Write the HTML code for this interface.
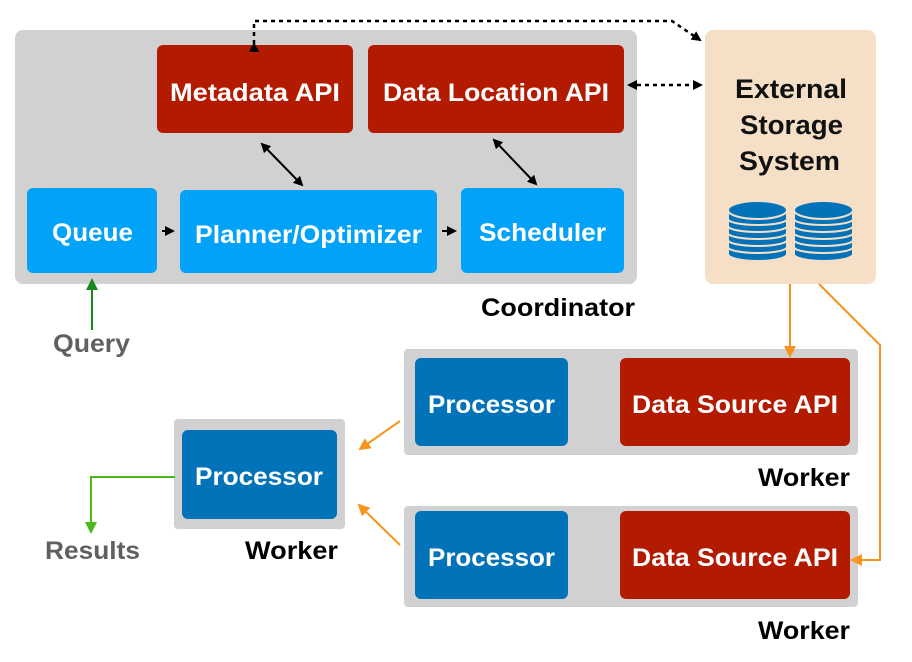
<!DOCTYPE html>
<html><head><meta charset="utf-8"><style>
html,body{margin:0;padding:0;background:#fff;}
svg{display:block;}
text{font-family:"Liberation Sans",sans-serif;font-weight:bold;}
</style></head><body>
<svg width="912" height="662" viewBox="0 0 912 662" xmlns="http://www.w3.org/2000/svg">
<defs>
<marker id="ak" markerWidth="10" markerHeight="10" refX="8" refY="5" orient="auto" markerUnits="userSpaceOnUse"><path d="M0,0 L10,5 L0,10 z" fill="#000"/></marker>
<marker id="ak2" markerWidth="10" markerHeight="10" refX="2" refY="5" orient="auto" markerUnits="userSpaceOnUse"><path d="M10,0 L0,5 L10,10 z" fill="#000"/></marker>
<marker id="ao" markerWidth="12" markerHeight="12" refX="10" refY="6" orient="auto" markerUnits="userSpaceOnUse"><path d="M0,0 L12,6 L0,12 z" fill="#f7941d"/></marker>
<marker id="ag" markerWidth="12" markerHeight="12" refX="10" refY="6" orient="auto" markerUnits="userSpaceOnUse"><path d="M0,0 L12,6 L0,12 z" fill="#1a8a1a"/></marker>
<marker id="ag2" markerWidth="12" markerHeight="12" refX="10" refY="6" orient="auto" markerUnits="userSpaceOnUse"><path d="M0,0 L12,6 L0,12 z" fill="#4cb81c"/></marker>
</defs>
<rect x="15" y="30" width="622" height="254" rx="8" fill="#d1d1d1"/>
<rect x="157" y="45" width="196" height="88" rx="6" fill="#b31b00"/>
<rect x="368" y="45" width="256" height="88" rx="6" fill="#b31b00"/>
<rect x="27" y="188" width="130" height="85" rx="6" fill="#02a2f9"/>
<rect x="180" y="190" width="257" height="83" rx="6" fill="#02a2f9"/>
<rect x="461" y="188" width="163" height="85" rx="6" fill="#02a2f9"/>
<text x="170" y="101" font-size="25" fill="#fff" textLength="170" lengthAdjust="spacingAndGlyphs">Metadata API</text>
<text x="383" y="101" font-size="25" fill="#fff" textLength="226" lengthAdjust="spacingAndGlyphs">Data Location API</text>
<text x="52" y="241" font-size="25" fill="#fff" textLength="81" lengthAdjust="spacingAndGlyphs">Queue</text>
<text x="195" y="243" font-size="25" fill="#fff" textLength="227" lengthAdjust="spacingAndGlyphs">Planner/Optimizer</text>
<text x="479" y="241" font-size="25" fill="#fff" textLength="127" lengthAdjust="spacingAndGlyphs">Scheduler</text>
<path d="M162,231 L173,231" stroke="#000" stroke-width="2" marker-end="url(#ak)"/>
<path d="M442,231 L455,231" stroke="#000" stroke-width="2" marker-end="url(#ak)"/>
<path d="M262,144 L302,185" stroke="#000" stroke-width="2" marker-start="url(#ak2)" marker-end="url(#ak)"/>
<path d="M494,140 L536,184" stroke="#000" stroke-width="2" marker-start="url(#ak2)" marker-end="url(#ak)"/>
<text x="481" y="316" font-size="25" fill="#000" textLength="154" lengthAdjust="spacingAndGlyphs">Coordinator</text>
<rect x="705" y="30" width="171" height="254" rx="8" fill="#f5dfc6"/>
<text x="735" y="98" font-size="27" fill="#111" textLength="112" lengthAdjust="spacingAndGlyphs">External</text>
<text x="740" y="134" font-size="27" fill="#111" textLength="103" lengthAdjust="spacingAndGlyphs">Storage</text>
<text x="739" y="170" font-size="27" fill="#111" textLength="101" lengthAdjust="spacingAndGlyphs">System</text>
<g fill="#0373b9" stroke="#f5dfc6" stroke-width="2">
<path d="M728,212 v42 a29.5,7 0 0 0 59,0 v-42 z"/>
<path d="M728,247 a29.5,6 0 0 0 59,0" fill="none"/><path d="M728,240 a29.5,6 0 0 0 59,0" fill="none"/><path d="M728,233 a29.5,6 0 0 0 59,0" fill="none"/><path d="M728,226 a29.5,6 0 0 0 59,0" fill="none"/><path d="M728,219 a29.5,6 0 0 0 59,0" fill="none"/>
<ellipse cx="757.5" cy="210" rx="29.5" ry="9"/>
<path d="M794,212 v42 a29.5,7 0 0 0 59,0 v-42 z"/>
<path d="M794,247 a29.5,6 0 0 0 59,0" fill="none"/><path d="M794,240 a29.5,6 0 0 0 59,0" fill="none"/><path d="M794,233 a29.5,6 0 0 0 59,0" fill="none"/><path d="M794,226 a29.5,6 0 0 0 59,0" fill="none"/><path d="M794,219 a29.5,6 0 0 0 59,0" fill="none"/>
<ellipse cx="823.5" cy="210" rx="29.5" ry="9"/>
</g>
<path d="M254,44 L254,21 L672,21 L700,40" fill="none" stroke="#000" stroke-width="2.5" stroke-dasharray="4,4" marker-start="url(#ak)" marker-end="url(#ak)"/>
<path d="M629,85 L701,85" stroke="#000" stroke-width="2.5" stroke-dasharray="4,4" marker-start="url(#ak2)" marker-end="url(#ak)"/>
<path d="M92,330 L92,280" stroke="#1a8a1a" stroke-width="2" marker-end="url(#ag)"/>
<text x="53" y="352" font-size="25" fill="#606060" textLength="77" lengthAdjust="spacingAndGlyphs">Query</text>
<rect x="404" y="349" width="454" height="106" rx="4" fill="#d1d1d1"/>
<rect x="415" y="358" width="153" height="88" rx="6" fill="#0373b9"/>
<rect x="620" y="358" width="230" height="88" rx="6" fill="#b31b00"/>
<text x="428" y="413" font-size="25" fill="#fff" textLength="127" lengthAdjust="spacingAndGlyphs">Processor</text>
<text x="632" y="413" font-size="25" fill="#fff" textLength="206" lengthAdjust="spacingAndGlyphs">Data Source API</text>
<text x="758" y="486" font-size="25" fill="#000" textLength="92" lengthAdjust="spacingAndGlyphs">Worker</text>
<rect x="404" y="506" width="454" height="101" rx="4" fill="#d1d1d1"/>
<rect x="415" y="511" width="153" height="88" rx="6" fill="#0373b9"/>
<rect x="620" y="511" width="230" height="88" rx="6" fill="#b31b00"/>
<text x="428" y="566" font-size="25" fill="#fff" textLength="127" lengthAdjust="spacingAndGlyphs">Processor</text>
<text x="632" y="566" font-size="25" fill="#fff" textLength="206" lengthAdjust="spacingAndGlyphs">Data Source API</text>
<text x="758" y="639" font-size="25" fill="#000" textLength="92" lengthAdjust="spacingAndGlyphs">Worker</text>
<rect x="174" y="419" width="171" height="110" rx="4" fill="#d1d1d1"/>
<rect x="182" y="430" width="155" height="89" rx="6" fill="#0373b9"/>
<text x="195" y="485" font-size="25" fill="#fff" textLength="128" lengthAdjust="spacingAndGlyphs">Processor</text>
<text x="245" y="559" font-size="25" fill="#000" textLength="93" lengthAdjust="spacingAndGlyphs">Worker</text>
<path d="M175,477 L91,477 L91,532" fill="none" stroke="#4cb81c" stroke-width="2" marker-end="url(#ag2)"/>
<text x="45" y="559" font-size="25" fill="#606060" textLength="95" lengthAdjust="spacingAndGlyphs">Results</text>
<path d="M790,284 L790,356" stroke="#f7941d" stroke-width="2" marker-end="url(#ao)"/>
<path d="M819,284 L880,345 L880,560 L852,560" fill="none" stroke="#f7941d" stroke-width="2" marker-end="url(#ao)"/>
<path d="M400,421 L360,449" stroke="#f7941d" stroke-width="2" marker-end="url(#ao)"/>
<path d="M400,545 L359,505" stroke="#f7941d" stroke-width="2" marker-end="url(#ao)"/>
</svg>
</body></html>
